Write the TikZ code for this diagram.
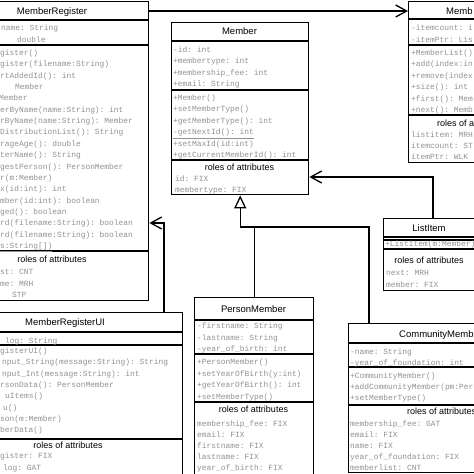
\documentclass[tikz,border=0pt]{standalone}
\usepackage{fontspec}
\setmainfont{Liberation Sans}
\setmonofont{Liberation Mono}
\usetikzlibrary{arrows.meta,calc}
\definecolor{txtgray}{HTML}{929292}
\tikzset{
  cls/.style={rectangle,draw,fill=white,line width=1.4pt,inner sep=0pt,anchor=north west},
  div/.style={line width=1.2pt},
  ttl/.style={font=\fontsize{9.5}{11}\selectfont,anchor=base,inner sep=0pt},
  rol/.style={font=\fontsize{9}{11}\selectfont,anchor=base,inner sep=0pt},
  ln/.style={font=\ttfamily\fontsize{7.9}{9}\selectfont,text=txtgray,anchor=base west,inner sep=0pt},
  assoc/.style={line width=1.3pt,-{Straight Barb[length=11pt,width=12pt]}},
  gen/.style={line width=1.3pt,-{Triangle[open,length=13pt,width=12pt]}},
  plain/.style={line width=1.3pt},
}

\begin{document}
\begin{tikzpicture}[x=1pt,y=-1pt]
\fill[white] (0,0) rectangle (474,474);
\useasboundingbox (0,0) rectangle (474,474);
\clip (0,0) rectangle (474,474);

% MemberRegister
\node[cls,minimum width=192pt,minimum height=299pt] (reg) at (-44,1) {};
\foreach \y in {20,45,251} \draw[div] (reg.west |- 0,\y) -- (reg.east |- 0,\y);
\node[ttl] (reg-t) at (52,14.4) {MemberRegister};
\node[ln] (reg-a1) at (1,30.5) {name: String};
\node[ln] (reg-a2) at (17,42.5) {double};
\foreach \x/\t [count=\i from 0] in {0/gister(),0/gister(filename:String),0/rtAddedId(): int,
  15/Member,-1/Member,0/erByName(name:String): int,0/rByName(name:String): Member,
  0/DistributionList(): String,0/rageAge(): double,0/terName(): String,
  0/gestPerson(): PersonMember,0/r(m:Member),0/x(id:int): int,0/mber(id:int): boolean,
  0/ged(): boolean,0/rd(filename:String): boolean,0/rd(filename:String): boolean,
  0/{\underline{s:String[])}}}
  \node[ln] (reg-m\i) at (\x,55.5+11.35*\i) {\t};
\node[rol] (reg-r) at (52,262.2) {roles of attributes};
\node[ln] (reg-r1) at (0,274.5) {st: CNT};
\node[ln] (reg-r2) at (0,286.5) {me: MRH};
\node[ln] (reg-r3) at (12,297.5) {STP};

% Member
\node[cls,minimum width=137pt,minimum height=172pt] (member) at (171,22) {};
\foreach \y in {41,90,160} \draw[div] (member.west |- 0,\y) -- (member.east |- 0,\y);
\node[ttl] (member-t) at (239.5,34.4) {Member};
\foreach \t [count=\i from 0] in {-id: int,+membertype: int,+membership\_fee: int,+email: String}
  \node[ln] (member-a\i) at (173,52.5+11.35*\i) {\t};
\foreach \t [count=\i from 0] in {+Member(),+setMemberType(),+getMemberType(): int,
  {\underline{-getNextId(): int}},+setMaxId(id:int),+getCurrentMemberId(): int}
  \node[ln] (member-m\i) at (173,100.5+11.4*\i) {\t};
\node[rol] (member-r) at (239.5,170.2) {roles of attributes};
\node[ln] (member-r1) at (175,181.5) {id: FIX};
\node[ln] (member-r2) at (175,192.8) {membertype: FIX};

% MemberList
\node[cls,minimum width=128pt,minimum height=161pt] (mlist) at (408,1) {};
\foreach \y in {19,45,115} \draw[div] (mlist.west |- 0,\y) -- (mlist.east |- 0,\y);
\node[ttl,anchor=base west] (mlist-t) at (446,14.4) {Memb};
\foreach \t [count=\i from 0] in {-itemcount: i,-itemPtr: Lis}
  \node[ln] (mlist-a\i) at (411,30.5+12*\i) {\t};
\foreach \t [count=\i from 0] in {+MemberList(),+add(index:in,+remove(index,+size(): int,
  +first(): Mem,+next(): Memb}
  \node[ln] (mlist-m\i) at (411,55.5+11.4*\i) {\t};
\node[rol,anchor=base west] (mlist-r) at (437,126.2) {roles of a};
\foreach \t [count=\i from 0] in {listitem: MRH,itemcount: ST,itemPtr: WLK}
  \node[ln] (mlist-r\i) at (411,137.5+11*\i) {\t};

% ListItem
\node[cls,minimum width=93pt,minimum height=72pt] (litem) at (383,218) {};
\foreach \y in {237,240,249} \draw[div] (litem.west |- 0,\y) -- (litem.east |- 0,\y);
\node[ttl] (litem-t) at (429,231.4) {ListItem};
\node[ln] (litem-m) at (385,246.5) {+ListItem(m:Member)};
\node[rol] (litem-r) at (429,263.2) {roles of attributes};
\node[ln] (litem-r1) at (386,275.5) {next: MRH};
\node[ln] (litem-r2) at (386,287.5) {member: FIX};

% MemberRegisterUI
\node[cls,minimum width=234pt,minimum height=180pt] (mrui) at (-52,312) {};
\foreach \y in {332,345,439} \draw[div] (mrui.west |- 0,\y) -- (mrui.east |- 0,\y);
\node[ttl] (mrui-t) at (65,325.4) {MemberRegisterUI};
\node[ln] (mrui-a) at (5,343.5) {log: String};
\foreach \x/\t [count=\i from 0] in {0/gisterUI(),2/nput\_String(message:String): String,
  2/nput\_Int(message:String): int,0/rsonData(): PersonMember,5/uItems(),3/u(),
  0/son(m:Member),0/berData()}
  \node[ln] (mrui-m\i) at (\x,353.5+11.3*\i) {\t};
\node[rol] (mrui-r) at (68,448.4) {roles of attributes};
\node[ln] (mrui-r1) at (0,458.5) {gister: FIX};
\node[ln] (mrui-r2) at (3,470.5) {log: GAT};

% PersonMember
\node[cls,minimum width=119pt,minimum height=190pt] (pmem) at (194,297) {};
\foreach \y in {320,354,402} \draw[div] (pmem.west |- 0,\y) -- (pmem.east |- 0,\y);
\node[ttl] (pmem-t) at (253.5,312) {PersonMember};
\foreach \t [count=\i from 0] in {-firstname: String,-lastname: String,-year\_of\_birth: int}
  \node[ln] (pmem-a\i) at (197,328.5+11.5*\i) {\t};
\foreach \t [count=\i from 0] in {+PersonMember(),+setYearOfBirth(y:int),
  +getYearOfBirth(): int,+setMemberType()}
  \node[ln] (pmem-m\i) at (197,364.5+11.5*\i) {\t};
\node[rol] (pmem-r) at (253.5,412.4) {roles of attributes};
\foreach \t [count=\i from 0] in {membership\_fee: FIX,email: FIX,firstname: FIX,
  lastname: FIX,year\_of\_birth: FIX}
  \node[ln] (pmem-r\i) at (197,426+11*\i) {\t};

% CommunityMember
\node[cls,minimum width=188pt,minimum height=149pt] (cmem) at (348,323) {};
\foreach \y in {343,367,405} \draw[div] (cmem.west |- 0,\y) -- (cmem.east |- 0,\y);
\node[ttl,anchor=base west] (cmem-t) at (399,337.4) {CommunityMemb};
\foreach \t [count=\i from 0] in {-name: String,-year\_of\_foundation: int}
  \node[ln] (cmem-a\i) at (350,354.5+10.5*\i) {\t};
\foreach \t [count=\i from 0] in {+CommunityMember(),+addCommunityMember(pm:Per,+setMemberType()}
  \node[ln] (cmem-m\i) at (350,378.5+11*\i) {\t};
\node[rol,anchor=base west] (cmem-r) at (407,414.4) {roles of attributes};
\foreach \t [count=\i from 0] in {membership\_fee: GAT,email: FIX,name: FIX,
  year\_of\_foundation: FIX,memberlist: CNT}
  \node[ln] (cmem-r\i) at (350,426.5+11*\i) {\t};

% connectors
\draw[assoc] (reg.east |- 0,11) -- (mlist.west |- 0,11);
\draw[assoc] (litem.north -| 433,0) |- (member.east |- 0,177);
\draw[assoc] (mrui.north -| 164,0) |- (reg.east |- 0,223);
\draw[gen] (pmem.north) |- (member.south |- 0,227) -- (member.south);
\draw[plain] (cmem.north -| 369,0) |- (member.south |- 0,227);
\end{tikzpicture}
\end{document}
